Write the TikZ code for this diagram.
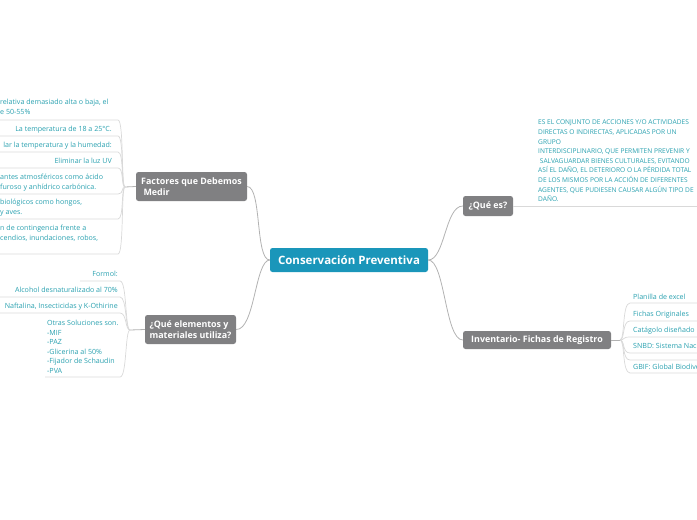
\documentclass[tikz,border=0pt]{standalone}
\usepackage{fontspec}
\setmainfont{Open Sans}
\definecolor{mainc}{RGB}{26,150,186}
\definecolor{leafc}{RGB}{40,160,175}
\definecolor{brc}{RGB}{128,128,130}
\begin{document}
\begin{tikzpicture}[x=1pt,y=-1pt,
  conn/.style={draw=black!30,line width=0.8pt},
  leafl/.style={draw=black!15,line width=0.7pt},
  leaf/.style={text=leafc,font=\fontsize{7.1}{9.5}\selectfont,inner sep=0pt},
  branch/.style={fill=brc,text=white,rounded corners=2.5pt,font=\fontsize{8.9}{11}\selectfont\bfseries,inner sep=3pt,align=left},
  main/.style={fill=mainc,text=white,rounded corners=2.5pt,font=\fontsize{11.5}{13}\selectfont\bfseries,inner sep=3pt}]
\useasboundingbox (0,0) rectangle (697,520);
\clip (0,0) rectangle (697,520);
\node[main,minimum width=158pt,minimum height=24pt] (c) at (349,260) {Conservación Preventiva};
\node[branch,minimum width=111pt,minimum height=29pt] (f) at (191.5,186.5) {Factores que Debemos\\ \ Medir};
\node[branch,minimum width=91pt,minimum height=29pt] (e) at (190.5,329.5) {¿Qué elementos y\\materiales utiliza?};
\node[branch,minimum width=50pt,minimum height=20pt] (q) at (488,206) {¿Qué es?};
\node[branch,minimum width=148pt,minimum height=18pt,align=center] (i) at (537,340) {Inventario- Fichas de Registro};
\draw[conn] (c.west) .. controls (255,260) and (262,187) .. (f.east);
\draw[conn] (c.west) .. controls (255,260) and (255,330) .. (e.east);
\draw[conn] (c.east) .. controls (445,260) and (445,206) .. (q.west);
\draw[conn] (c.east) .. controls (445,260) and (445,340) .. (i.west);
\coordinate (fj) at (125,187);
\draw[conn] (f.west) -- (fj);
\foreach \y in {120,136,152,168,194,219,254}{
  \draw[leafl] (0,\y) -- (118,\y) .. controls (124,\y) and (121,187) .. (fj);}
\node[leaf,anchor=north west,align=left] (f1) at (0,99) {relativa demasiado alta o baja, el\\e 50-55\%};
\node[leaf,anchor=base east] (f2) at (112,131) {La temperatura de 18 a 25°C.};
\node[leaf,anchor=base east] (f3) at (112,147) {lar la temperatura y la humedad:};
\node[leaf,anchor=base east] (f4) at (112,163) {Eliminar la luz UV};
\node[leaf,anchor=north west,align=left] (f5) at (0,174) {antes atmosféricos como ácido\\furoso y anhídrico carbónica.};
\node[leaf,anchor=north west,align=left] (f6) at (0,199) {biológicos como hongos,\\y aves.};
\node[leaf,anchor=north west,align=left] (f7) at (0,225) {n de contingencia frente a\\cendios, inundaciones, robos,};
\coordinate (ej) at (130,330);
\draw[conn] (e.west) -- (ej);
\foreach \y/\xs in {281/80,297/0,313/0,377/45}{
  \draw[leafl] (\xs,\y) -- (120,\y) .. controls (127,\y) and (125,330) .. (ej);}
\node[leaf,anchor=base east] (e1) at (118,276) {Formol:};
\node[leaf,anchor=base east] (e2) at (118,292) {Alcohol desnaturalizado al 70\%};
\node[leaf,anchor=base east] (e3) at (118,308) {Naftalina, Insecticidas y K-Othirine};
\node[leaf,anchor=north west,align=left,font=\fontsize{7.1}{9.6}\selectfont] (e4) at (47,320) {Otras Soluciones son.\\-MIF\\-PAZ\\-Glicerina al 50\%\\-Fijador de Schaudin\\-PVA};
\coordinate (qe) at (697,206);
\draw[leafl] (q.east) -- (qe);
\node[leaf,anchor=north west,align=left,font=\fontsize{6.6}{9.6}\selectfont] (qt) at (538,120) {ES EL CONJUNTO DE ACCIONES Y/O ACTIVIDADES\\DIRECTAS O INDIRECTAS, APLICADAS POR UN\\GRUPO\\INTERDISCIPLINARIO, QUE PERMITEN PREVENIR Y\\\ SALVAGUARDAR BIENES CULTURALES, EVITANDO\\ASÍ EL DAÑO, EL DETERIORO O LA PÉRDIDA TOTAL\\DE LOS MISMOS POR LA ACCIÓN DE DIFERENTES\\AGENTES, QUE PUDIESEN CAUSAR ALGÚN TIPO DE\\DAÑO.};
\coordinate (ij) at (620,340);
\draw[conn] (i.east) -- (ij);
\foreach \y in {303,321,337,353,360,373}{
  \draw[leafl] (ij) .. controls (625,340) and (622,\y) .. (630,\y) -- (697,\y);}
\node[leaf,anchor=base west] (i1) at (633,299) {Planilla de excel};
\node[leaf,anchor=base west] (i2) at (633,316) {Fichas Originales};
\node[leaf,anchor=base west] (i3) at (633,332) {Catágolo diseñado};
\node[leaf,anchor=base west] (i4) at (633,348) {SNBD: Sistema Nacional};
\node[leaf,anchor=base west] (i5) at (633,369) {GBIF: Global Biodiversity};
\end{tikzpicture}
\end{document}
